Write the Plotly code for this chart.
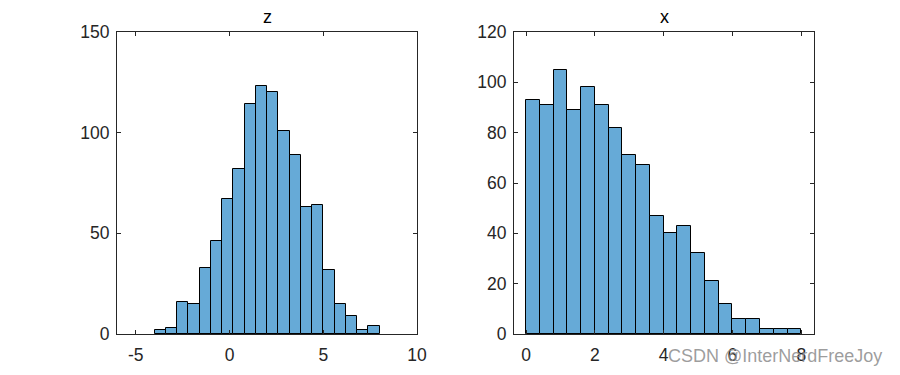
import plotly.graph_objects as go

# ---- data ----
z_edges = [-4.0, -3.4, -2.8, -2.2, -1.6, -1.0, -0.4, 0.2, 0.8, 1.4, 2.0,
           2.6, 3.2, 3.8, 4.4, 5.0, 5.6, 6.2, 6.8, 7.4, 8.0]
z_counts = [2, 3, 16, 15, 33, 46, 67, 82, 114, 123, 120, 101, 89, 63, 64,
            32, 15, 9, 2, 4]

x_edges = [0.0, 0.4, 0.8, 1.2, 1.6, 2.0, 2.4, 2.8, 3.2, 3.6, 4.0,
           4.4, 4.8, 5.2, 5.6, 6.0, 6.4, 6.8, 7.2, 7.6, 8.0]
x_counts = [93, 91, 105, 89, 98, 91, 82, 71, 67, 47, 40, 43, 32, 21, 12,
            6, 6, 2, 2, 2]

z_xticks = [-5, 0, 5, 10]
z_xticklabels = ["-5", "0", "5", "10"]
z_yticks = [0, 50, 100, 150]
x_xticks = [0, 2, 4, 6, 8]
x_yticks = [0, 20, 40, 60, 80, 100, 120]

titles = ["z", "x"]
watermark = "CSDN @InterNerdFreeJoy"

FACE = "rgb(102,170,215)"
TXT = "#262626"
FONT = "Liberation Sans, Arial"


def centers(e):
    return [(e[i] + e[i + 1]) / 2 for i in range(len(e) - 1)]


def widths(e):
    return [e[i + 1] - e[i] for i in range(len(e) - 1)]


fig = go.Figure()
fig.add_trace(go.Bar(x=centers(z_edges), y=z_counts, width=widths(z_edges),
                     marker=dict(color=FACE, line=dict(color="black", width=1)),
                     xaxis="x", yaxis="y", showlegend=False))
fig.add_trace(go.Bar(x=centers(x_edges), y=x_counts, width=widths(x_edges),
                     marker=dict(color=FACE, line=dict(color="black", width=1)),
                     xaxis="x2", yaxis="y2", showlegend=False))

ydom = [1 - 334 / 375, 1 - 32 / 375]
common = dict(showline=True, linecolor=TXT, linewidth=1, mirror="ticks",
              ticks="inside", ticklen=4, tickcolor=TXT, showgrid=False,
              zeroline=False, automargin=False,
              tickfont=dict(family=FONT, size=17.5, color=TXT))
xcommon = dict(common, ticklabelstandoff=5)
ycommon = dict(common, ticklabelstandoff=3)

ann = dict(xref="paper", yref="paper", showarrow=False, xanchor="center", yanchor="middle")

fig.update_layout(
    width=900, height=375,
    margin=dict(l=0, r=0, t=0, b=0, autoexpand=False),
    paper_bgcolor="white", plot_bgcolor="white",
    bargap=0,
    xaxis=dict(domain=[117 / 900, 417 / 900], range=[-6, 10], tickvals=z_xticks,
               ticktext=z_xticklabels, anchor="y", **xcommon),
    yaxis=dict(domain=ydom, range=[0, 150], tickvals=z_yticks, anchor="x", **ycommon),
    xaxis2=dict(domain=[514 / 900, 814 / 900], range=[-0.35, 8.37], tickvals=x_xticks,
                anchor="y2", **xcommon),
    yaxis2=dict(domain=ydom, range=[0, 120], tickvals=x_yticks, anchor="x2", **ycommon),
    annotations=[
        dict(text=titles[0], x=(117 + 417) / 2 / 900, y=1 - 17 / 375,
             font=dict(family=FONT, size=18, color="black"), **ann),
        dict(text=titles[1], x=(514 + 814) / 2 / 900, y=1 - 17 / 375,
             font=dict(family=FONT, size=18, color="black"), **ann),
        dict(text=watermark, x=775 / 900, y=1 - 356 / 375,
             font=dict(family=FONT, size=18, color="rgba(140,140,140,0.85)"), **ann),
    ],
)

fig.write_html("out.html", config={"displayModeBar": False},
               post_script="document.body.style.margin='0';")
